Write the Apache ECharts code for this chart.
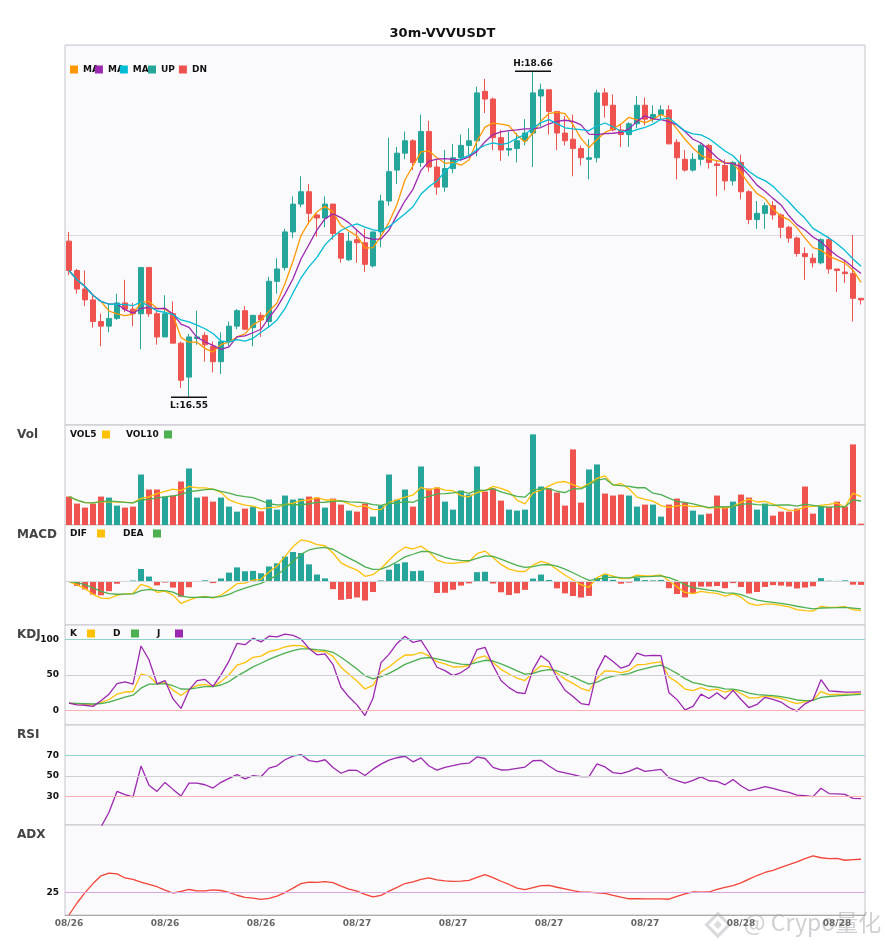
<!DOCTYPE html>
<html>
<head>
<meta charset="utf-8">
<title>30m-VVVUSDT</title>
<script src="https://cdn.jsdelivr.net/npm/echarts@6.0.0/dist/echarts.min.js"></script>
<style>
  html, body { margin: 0; padding: 0; background: #fff; }
  #chart { width: 885px; height: 950px; }
</style>
</head>
<body>
<div id="chart"></div>
<script>
// 30m candles, 100 bars
var opens = [
  17.56,17.37,17.25,17.18,17.04,17.01,17.06,17.16,17.12,17.09,
  17.39,17.09,16.94,17.09,16.90,16.68,16.93,16.95,16.88,16.78,
  16.91,17.01,17.11,17.00,17.08,17.04,17.30,17.39,17.62,17.80,
  17.88,17.73,17.71,17.80,17.61,17.44,17.57,17.55,17.40,17.62,
  17.82,18.02,18.13,18.21,18.07,18.27,18.04,17.91,18.03,18.10,
  18.18,18.21,18.53,18.48,18.23,18.15,18.16,18.21,18.26,18.50,
  18.54,18.40,18.26,18.22,18.16,18.09,18.10,18.52,18.44,18.28,
  18.25,18.32,18.44,18.35,18.38,18.41,18.20,18.09,18.02,18.09,
  18.18,18.06,18.05,17.95,18.07,17.88,17.70,17.74,17.79,17.73,
  17.65,17.58,17.48,17.45,17.42,17.57,17.38,17.36,17.35,17.19
];
var closes = [
  17.37,17.25,17.18,17.04,17.01,17.06,17.16,17.12,17.09,17.39,
  17.09,16.94,17.09,16.90,16.66,16.94,16.94,16.89,16.78,16.91,
  17.01,17.11,16.99,17.08,17.05,17.30,17.38,17.62,17.80,17.88,
  17.74,17.71,17.80,17.61,17.45,17.56,17.55,17.41,17.62,17.82,
  18.01,18.13,18.21,18.07,18.27,18.04,17.91,18.03,18.10,18.18,
  18.21,18.52,18.48,18.23,18.15,18.16,18.21,18.26,18.52,18.54,
  18.40,18.26,18.21,18.16,18.10,18.10,18.52,18.44,18.28,18.25,
  18.32,18.44,18.35,18.38,18.41,18.19,18.10,18.02,18.09,18.18,
  18.07,18.05,17.95,18.07,17.88,17.70,17.74,17.79,17.73,17.65,
  17.58,17.48,17.46,17.42,17.57,17.38,17.37,17.35,17.19,17.18
];
var lows = [
  17.34,17.22,17.14,17.00,16.88,16.97,17.05,17.10,17.01,16.86,
  17.07,16.89,16.94,16.90,16.61,16.55,16.89,16.78,16.71,16.70,
  16.88,16.99,16.99,16.88,16.94,17.00,17.22,17.37,17.58,17.78,
  17.67,17.59,17.65,17.57,17.42,17.43,17.42,17.36,17.39,17.52,
  17.79,17.93,18.09,18.02,18.04,18.01,17.86,17.88,18.00,18.08,
  18.11,18.11,18.39,18.15,18.08,18.11,18.07,18.18,18.04,18.30,
  18.25,18.15,18.18,17.98,18.05,17.96,18.07,18.36,18.27,18.17,
  18.17,18.29,18.31,18.33,18.35,18.19,17.96,18.01,18.01,18.05,
  18.03,17.85,17.89,17.92,17.83,17.67,17.64,17.64,17.70,17.58,
  17.55,17.46,17.31,17.39,17.41,17.35,17.23,17.29,17.04,17.15
];
var highs = [
  17.62,17.38,17.37,17.21,17.09,17.16,17.22,17.31,17.16,17.39,
  17.39,17.11,17.21,17.17,16.91,16.96,17.11,16.97,16.91,16.97,
  17.04,17.12,17.14,17.08,17.10,17.33,17.45,17.64,17.85,17.98,
  17.93,17.74,17.85,17.80,17.61,17.62,17.64,17.64,17.62,17.86,
  18.23,18.17,18.27,18.22,18.38,18.34,18.09,18.15,18.19,18.25,
  18.29,18.56,18.61,18.49,18.28,18.27,18.26,18.35,18.66,18.58,
  18.54,18.40,18.37,18.38,18.18,18.22,18.54,18.55,18.51,18.32,
  18.33,18.50,18.49,18.44,18.44,18.44,18.22,18.15,18.13,18.20,
  18.19,18.08,18.09,18.08,18.12,17.89,17.82,17.81,17.82,17.74,
  17.66,17.59,17.52,17.48,17.58,17.59,17.38,17.44,17.60,17.19
];
// volume, relative units (no scale printed on the chart)
var volumes = [
  85,64,52,64,85,82,58,52,55,151,
  106,106,85,88,130,169,82,85,70,82,
  55,40,49,55,41,76,46,88,76,79,
  85,82,52,79,61,43,40,64,25,58,
  151,76,106,55,175,109,112,70,46,103,
  91,175,100,109,73,46,43,46,271,115,
  109,97,58,226,67,166,181,94,88,91,
  88,55,61,61,25,61,79,67,43,31,
  34,88,55,70,91,82,46,64,28,40,
  40,49,115,34,55,55,70,55,241,4
];
var volMax = 299;

// bar times: 30 minute steps from the first bar
var startTime = Date.UTC(2025, 7, 26, 8, 0);
var times = [];
for (var t = 0; t < closes.length; t++) {
  var d = new Date(startTime + t * 30 * 60000);
  var mm = ('0' + (d.getUTCMonth() + 1)).slice(-2);
  var dd = ('0' + d.getUTCDate()).slice(-2);
  var hh = ('0' + d.getUTCHours()).slice(-2);
  var mi = ('0' + d.getUTCMinutes()).slice(-2);
  times.push(mm + '/' + dd + ' ' + hh + ':' + mi);
}

var UP = '#26a69a', DN = '#ef5350';

// ---- indicators worked out from the bars ----
function maList(arr, n) {
  return arr.map(function (v, i) {
    var s = Math.max(0, i - n + 1), sum = 0;
    for (var j = s; j <= i; j++) sum += arr[j];
    return +(sum / (i - s + 1)).toFixed(4);
  });
}
function ewm(arr, alpha) {
  var out = [];
  arr.forEach(function (v, i) {
    out.push(i === 0 ? v : alpha * v + (1 - alpha) * out[i - 1]);
  });
  return out;
}

var ma5 = maList(closes, 5), ma7 = maList(closes, 7), ma10 = maList(closes, 10);
var vol5 = maList(volumes, 5), vol10 = maList(volumes, 10);

// fast MACD 6/13/5
var emaFast = ewm(closes, 2 / 7), emaSlow = ewm(closes, 2 / 14);
var dif = emaFast.map(function (v, i) { return v - emaSlow[i]; });
var dea = ewm(dif, 2 / 6);
var macdHist = dif.map(function (v, i) { return 2 * (v - dea[i]); });

var rsv = closes.map(function (c, i) {
  var s = Math.max(0, i - 8), lo = Infinity, hi = -Infinity;
  for (var j = s; j <= i; j++) { lo = Math.min(lo, lows[j]); hi = Math.max(hi, highs[j]); }
  return hi === lo ? 50 : (c - lo) / (hi - lo) * 100;
});
var kLine = ewm(rsv, 1 / 3);
var dLine = ewm(kLine, 1 / 3);
var jLine = kLine.map(function (k, i) { return 3 * k - 2 * dLine[i]; });

var rsi = closes.map(function (c, i) {
  if (i === 0) return null;
  var g = 0, l = 0, f = 1;
  for (var k = i; k >= 1; k--) {
    var ch = closes[k] - closes[k - 1];
    if (ch > 0) g += f * ch; else l -= f * ch;
    f *= 13 / 14;
  }
  return g + l === 0 ? null : 100 * g / (g + l);
});

var tr = [], pdm = [], mdm = [];
closes.forEach(function (c, i) {
  if (i === 0) { tr.push(highs[0] - lows[0]); pdm.push(0); mdm.push(0); return; }
  var pc = closes[i - 1];
  tr.push(Math.max(highs[i] - lows[i], Math.abs(highs[i] - pc), Math.abs(lows[i] - pc)));
  var up = highs[i] - highs[i - 1], dn = lows[i - 1] - lows[i];
  pdm.push(up > dn && up > 0 ? up : 0);
  mdm.push(dn > up && dn > 0 ? dn : 0);
});
var atr = ewm(tr, 2 / 15), pS = ewm(pdm, 2 / 15), mS = ewm(mdm, 2 / 15);
var dx = atr.map(function (a, i) {
  var p = 100 * pS[i] / a, m = 100 * mS[i] / a;
  return p + m === 0 ? 0 : 100 * Math.abs(p - m) / (p + m);
});
var adx = ewm(dx, 2 / 15);

var hiIdx = highs.indexOf(Math.max.apply(null, highs));
var loIdx = lows.indexOf(Math.min.apply(null, lows));

// ---- layout ----
var grids = [
  { top: 45, height: 380 },
  { top: 425, height: 100 },
  { top: 525, height: 100 },
  { top: 625, height: 100 },
  { top: 725, height: 100 },
  { top: 825, height: 90 }
].map(function (g) {
  return {
    left: 65, right: 20, top: g.top, height: g.height, show: true,
    backgroundColor: '#fafafc', borderColor: '#c4c4cc', borderWidth: 1
  };
});

var xAxes = grids.map(function (g, i) {
  var last = i === grids.length - 1;
  return {
    type: 'category', gridIndex: i, data: times, boundaryGap: true,
    axisLine: { show: last, lineStyle: { color: '#aaa' } },
    axisTick: { show: false },
    splitLine: { show: false },
    axisLabel: {
      show: last, interval: 11, color: '#666', fontSize: 9, fontWeight: 'bold',
      margin: 4,
      formatter: function (v) { return v.slice(0, 5); }
    }
  };
});

var labelStyle = { color: '#111', fontSize: 9, fontWeight: 'bold', margin: 6 };
function pickLabels(list) {
  return function (v) { return list.indexOf(v) >= 0 ? String(v) : ''; };
}
var noAxis = { axisLine: { show: false }, axisTick: { show: false }, splitLine: { show: false } };
var yAxes = [
  { gridIndex: 0, min: 16.37, max: 18.83, interval: 1.23,
    axisLabel: { show: false }, axisLine: { show: false }, axisTick: { show: false },
    splitLine: { lineStyle: { color: '#dcdce0' } } },
  Object.assign({ gridIndex: 1, min: 0, max: volMax, axisLabel: { show: false } }, noAxis),
  Object.assign({ gridIndex: 2, min: -0.23, max: 0.30, axisLabel: { show: false } }, noAxis),
  Object.assign({ gridIndex: 3, min: -20, max: 120, interval: 10,
    axisLabel: Object.assign({ formatter: pickLabels([0, 50, 100]) }, labelStyle) }, noAxis),
  Object.assign({ gridIndex: 4, min: 2, max: 100,
    axisLabel: Object.assign({ customValues: [30, 50, 70] }, labelStyle) }, noAxis),
  Object.assign({ gridIndex: 5, min: 0, max: 100, interval: 5,
    axisLabel: Object.assign({ formatter: pickLabels([25]) }, labelStyle) }, noAxis)
].map(function (a) { a.type = 'value'; return a; });

function hLines(list) {
  return {
    silent: true, symbol: ['none', 'none'], label: { show: false }, animation: false,
    data: list.map(function (l) { return { yAxis: l[0], lineStyle: { color: l[1], width: 1, type: 'solid' } }; })
  };
}
function line(name, data, color, gi, extra) {
  var s = {
    name: name, type: 'line', data: data, xAxisIndex: gi, yAxisIndex: gi,
    showSymbol: false, symbol: 'none', smooth: false,
    lineStyle: { color: color, width: 1.3 }, itemStyle: { color: color },
    z: 3
  };
  return Object.assign(s, extra || {});
}

var markLabel = { color: '#111', fontSize: 9, fontWeight: 'bold' };

var series = [
  {
    name: 'kline', type: 'candlestick', xAxisIndex: 0, yAxisIndex: 0, barWidth: '72%',
    data: opens.map(function (o, i) { return [o, closes[i], lows[i], highs[i]]; }),
    itemStyle: { color: UP, color0: DN, borderColor: UP, borderColor0: DN, borderWidth: 1 },
    markPoint: {
      silent: true, animation: false,
      data: [
        { coord: [times[hiIdx], highs[hiIdx]], symbol: 'rect', symbolSize: [36, 1.5],
          itemStyle: { color: '#111' },
          label: Object.assign({ position: 'top', distance: 2, formatter: 'H:' + highs[hiIdx].toFixed(2) }, markLabel) },
        { coord: [times[loIdx], lows[loIdx]], symbol: 'rect', symbolSize: [36, 1.5],
          itemStyle: { color: '#111' },
          label: Object.assign({ position: 'bottom', distance: 3, formatter: 'L:' + lows[loIdx].toFixed(2) }, markLabel) }
      ]
    }
  },
  line('MA5', ma5, '#ff9800', 0),
  line('MA7', ma7, '#9c27b0', 0),
  line('MA10', ma10, '#00bcd4', 0),
  { name: 'UP', type: 'bar', data: [], xAxisIndex: 0, yAxisIndex: 0, itemStyle: { color: UP } },
  { name: 'DN', type: 'bar', data: [], xAxisIndex: 0, yAxisIndex: 0, itemStyle: { color: DN } },

  { name: 'Volume', type: 'bar', xAxisIndex: 1, yAxisIndex: 1, barWidth: '75%',
    data: volumes.map(function (v, i) {
      return { value: v, itemStyle: { color: closes[i] >= opens[i] ? UP : DN } };
    }) },
  line('VOL5', vol5, '#ffc107', 1),
  line('VOL10', vol10, '#4caf50', 1),

  { name: 'MACD', type: 'bar', xAxisIndex: 2, yAxisIndex: 2, barWidth: '75%',
    data: macdHist.map(function (v) { return { value: v, itemStyle: { color: v >= 0 ? UP : DN } }; }),
    markLine: hLines([[0, '#d6d6da']]) },
  line('DIF', dif, '#ffc107', 2),
  line('DEA', dea, '#4caf50', 2),

  line('K', kLine, '#ffc107', 3, {
    markLine: hLines([[100, '#8fd3cb'], [50, '#d0d0d4'], [0, '#f8b0b0']]) }),
  line('D', dLine, '#4caf50', 3),
  line('J', jLine, '#9c27b0', 3),

  line('RSI', rsi, '#9c27b0', 4, {
    markLine: hLines([[70, '#8fd3cb'], [50, '#d0d0d4'], [30, '#f8b0b0']]) }),

  line('ADX', adx, '#f44336', 5, {
    markLine: hLines([[25, '#d9a6e0']]) })
];

// legend text boxes use rich tokens so each item gets the spacing seen on the chart
var legendBase = { fontSize: 9, fontWeight: 'bold', color: '#111' };
function legend(left, top, align, items, gap) {
  var rich = {}, widths = {};
  items.forEach(function (it, k) {
    widths[it.n] = 'w' + k;
    rich['w' + k] = Object.assign({ width: it.w, align: 'left' }, legendBase);
  });
  return {
    left: left, top: top, orient: 'horizontal', align: align, icon: 'rect',
    itemWidth: 8, itemHeight: 8, itemGap: gap, padding: 0,
    selectedMode: false,
    textStyle: Object.assign({ rich: rich }, legendBase),
    data: items.map(function (it) { return it.n; }),
    formatter: function (n) {
      var label = items.filter(function (it) { return it.n === n; })[0].t || n;
      return '{' + widths[n] + '|' + label + '}';
    }
  };
}

var panelTitle = { fontSize: 12, fontWeight: 'bold', color: '#444' };
var option = {
  animation: false,
  backgroundColor: '#fff',
  textStyle: { fontFamily: 'DejaVu Sans' },
  title: [
    { text: '30m-VVVUSDT', left: 'center', top: 27, padding: 0,
      textStyle: { fontSize: 13, fontWeight: 'bold', color: '#111' } },
    { text: 'Vol', left: 17, top: 429, padding: 0, textStyle: panelTitle },
    { text: 'MACD', left: 17, top: 529, padding: 0, textStyle: panelTitle },
    { text: 'KDJ', left: 17, top: 629, padding: 0, textStyle: panelTitle },
    { text: 'RSI', left: 17, top: 729, padding: 0, textStyle: panelTitle },
    { text: 'ADX', left: 17, top: 829, padding: 0, textStyle: panelTitle }
  ],
  legend: [
    legend(70, 65, 'left', [
      { n: 'MA5', t: 'MA', w: 11 }, { n: 'MA7', t: 'MA', w: 11 }, { n: 'MA10', t: 'MA', w: 11 }], -4),
    legend(148, 65, 'left', [{ n: 'UP', w: 14 }, { n: 'DN', w: 15 }], 4),
    legend(70, 430, 'right', [{ n: 'VOL5', w: 27 }, { n: 'VOL10', w: 33 }], 16),
    legend(70, 529, 'right', [{ n: 'DIF', w: 22 }, { n: 'DEA', w: 25 }], 18),
    legend(70, 629, 'right', [{ n: 'K', w: 12 }, { n: 'D', w: 13 }, { n: 'J', w: 13 }], 18)
  ],
  grid: grids,
  xAxis: xAxes,
  yAxis: yAxes,
  series: series,
  graphic: [
    { type: 'group', left: 703, top: 910, silent: true, z: 100,
      children: [
        { type: 'rect', shape: { x: -8, y: -8, width: 16, height: 16 }, x: 12, y: 15, rotation: Math.PI / 4,
          style: { fill: 'none', stroke: 'rgba(170,170,175,0.45)', lineWidth: 3 } },
        { type: 'rect', shape: { x: -3, y: -3, width: 6, height: 6 }, x: 12, y: 15, rotation: Math.PI / 4,
          style: { fill: 'rgba(170,170,175,0.4)' } },
        { type: 'text', x: 38, y: 1,
          style: { text: '@ Crypo量化', fill: 'rgba(150,150,155,0.45)',
            font: '23px "Noto Sans CJK SC", "DejaVu Sans", sans-serif' } }
      ] }
  ]
};

var chart = echarts.init(document.getElementById('chart'), null, { renderer: 'canvas' });
chart.setOption(option);
</script>
</body>
</html>
